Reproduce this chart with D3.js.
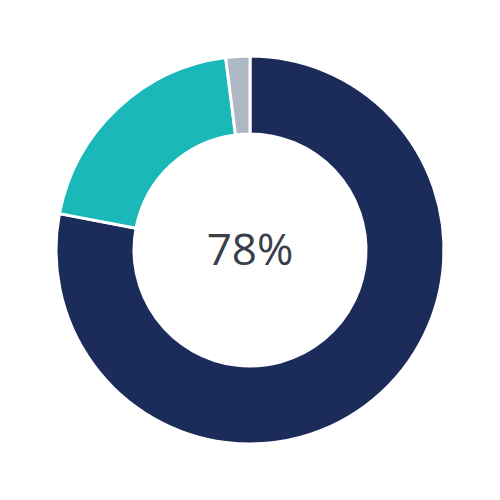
<!DOCTYPE html>
<html>
<head>
<meta charset="utf-8">
<script src="https://cdn.jsdelivr.net/npm/d3@7"></script>
<style>body{margin:0;background:#fff;}</style>
</head>
<body>
<div id="chart"></div>
<script>
const labels = ["Main", "Secondary", "Other"];
const values = [78, 20, 2];
const colors = ["#1b2b5a", "#1ab8b8", "#aeb8c4"];
const centerLabel = "78%";

const width = 500, height = 500;
const svg = d3.select("#chart").append("svg")
  .attr("width", width).attr("height", height);
const g = svg.append("g").attr("transform", "translate(250,250)");

const pie = d3.pie().sort(null).value(d => d)(values);
const arc = d3.arc().innerRadius(116).outerRadius(194);

g.selectAll("path").data(pie).enter().append("path")
  .attr("d", arc)
  .attr("fill", (d, i) => colors[i])
  .attr("stroke", "#fff")
  .attr("stroke-width", 3);

g.append("text")
  .attr("text-anchor", "middle")
  .attr("dy", "0.35em")
  .attr("font-family", "Open Sans, sans-serif")
  .attr("font-size", "44px")
  .attr("fill", "#3a3f4a")
  .text(centerLabel);
</script>
</body>
</html>
